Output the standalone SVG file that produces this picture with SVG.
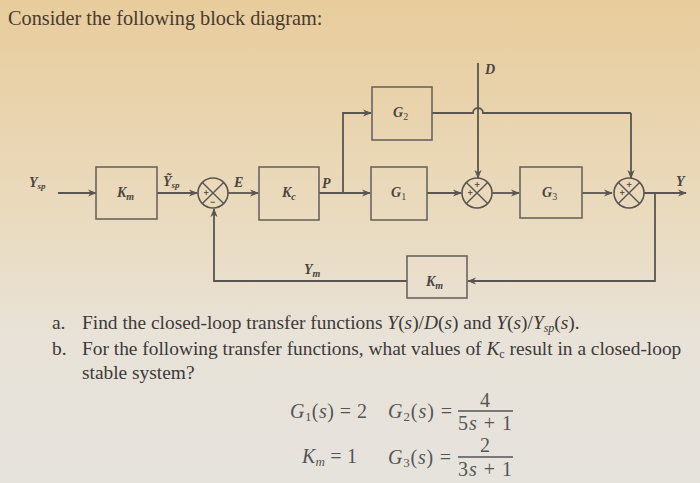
<svg xmlns="http://www.w3.org/2000/svg" width="700" height="483" viewBox="0 0 700 483">
<defs>
<linearGradient id="bg" x1="0" y1="0" x2="0" y2="1">
<stop offset="0" stop-color="#e8cc9c"/>
<stop offset="0.45" stop-color="#eadbbf"/>
<stop offset="0.7" stop-color="#e8e2d8"/>
<stop offset="1" stop-color="#e6e3dd"/>
</linearGradient>
<marker id="ah" viewBox="0 0 10 10" refX="9" refY="5" markerWidth="9" markerHeight="9" markerUnits="userSpaceOnUse" orient="auto">
<path d="M0,1 L10,5 L0,9 L3,5 Z" fill="#5a5550"/>
</marker>
</defs>
<style>
.box{fill:none;stroke:#6a6560;stroke-width:1.6}
.ln{fill:none;stroke:#5a5550;stroke-width:1.8}
.arr{marker-end:url(#ah)}
.lbl{font-family:"Liberation Serif",serif;font-style:italic;font-weight:bold;font-size:14px;fill:#4a4540}
.sg{font-family:"Liberation Sans",sans-serif;font-size:9px;fill:#5a5550;font-weight:bold}
.txt{font-family:"Liberation Serif",serif;font-size:19.4px;fill:#3c3a38}
.it{font-style:italic}
.eq{font-family:"Liberation Serif",serif;font-size:20px;fill:#555}
</style>
<rect width="700" height="483" fill="url(#bg)"/>
<text x="8" y="25" font-family="Liberation Serif,serif" font-size="20.3" fill="#4a3a30">Consider the following block diagram:</text>

<g id="connectors">
<path class="ln arr" d="M58,193 H96"/>
<path class="ln arr" d="M157,193 H197"/>
<path class="ln arr" d="M228,193 H258"/>
<path class="ln arr" d="M319,193 H370"/>
<path class="ln arr" d="M343,193 V113 H371"/>
<path class="ln arr" d="M427,193 H461"/>
<path class="ln" d="M432,113 H473 A5,5 0 0 1 483,113 H631"/>
<path class="ln arr" d="M631,113 V178"/>
<path class="ln arr" d="M478,63 V178"/>
<path class="ln arr" d="M492,193 H519"/>
<path class="ln arr" d="M582,193 H612"/>
<path class="ln arr" d="M644,193 H686"/>
<path class="ln arr" d="M655,193 V281 H468"/>
<path class="ln arr" d="M407,281 H214 V209"/>
</g>

<g id="sum1">
<circle cx="213" cy="193" r="15" fill="none" stroke="#5a5550" stroke-width="1.6"/>
<path d="M202.4,182.4 L223.6,203.6 M223.6,182.4 L202.4,203.6" stroke="#5a5550" stroke-width="1.4"/>
<text class="sg" x="203.5" y="196">+</text>
<text class="sg" x="210" y="205">−</text>
</g>
<g id="sum2">
<circle cx="477" cy="193" r="15" fill="none" stroke="#5a5550" stroke-width="1.6"/>
<path d="M466.4,182.4 L487.6,203.6 M487.6,182.4 L466.4,203.6" stroke="#5a5550" stroke-width="1.4"/>
<text class="sg" x="474.5" y="188">+</text>
<text class="sg" x="467.5" y="196">+</text>
</g>
<g id="sum3">
<circle cx="629" cy="193" r="15" fill="none" stroke="#5a5550" stroke-width="1.6"/>
<path d="M618.4,182.4 L639.6,203.6 M639.6,182.4 L618.4,203.6" stroke="#5a5550" stroke-width="1.4"/>
<text class="sg" x="626.5" y="188">+</text>
<text class="sg" x="619.5" y="196">+</text>
</g>

<g id="Km1"><rect class="box" x="96" y="167" width="61" height="52"/><text class="lbl" x="117" y="197">K<tspan font-size="10" dy="3">m</tspan></text></g>
<g id="Kc"><rect class="box" x="259" y="167" width="60" height="53"/><text class="lbl" x="282" y="197">K<tspan font-size="10" dy="3">c</tspan></text></g>
<g id="G1"><rect class="box" x="371" y="167" width="56" height="53"/><text class="lbl" x="391" y="197">G<tspan font-size="10" dy="3" font-style="normal" font-weight="normal">1</tspan></text></g>
<g id="G2"><rect class="box" x="372" y="87" width="60" height="53"/><text class="lbl" x="393" y="117">G<tspan font-size="10" dy="3" font-style="normal" font-weight="normal">2</tspan></text></g>
<g id="G3"><rect class="box" x="520" y="167" width="62" height="51"/><text class="lbl" x="542" y="197">G<tspan font-size="10" dy="3" font-style="normal" font-weight="normal">3</tspan></text></g>
<g id="Km2"><rect class="box" x="407" y="256" width="60" height="42"/><text class="lbl" x="426" y="286">K<tspan font-size="10" dy="3">m</tspan></text></g>

<g id="labels">
<text class="lbl" x="29" y="187">Y<tspan font-size="9" dy="2">sp</tspan></text>
<text class="lbl" x="163" y="186">Ỹ<tspan font-size="9" dy="2">sp</tspan></text>
<text class="lbl" x="234" y="187">E</text>
<text class="lbl" x="322" y="188">P</text>
<text class="lbl" x="485" y="74">D</text>
<text class="lbl" x="676" y="186">Y</text>
<text class="lbl" x="304" y="274">Y<tspan font-size="10" dy="3">m</tspan></text>
</g>

<text class="txt" x="52" y="329">a.</text>
<text class="txt" x="82" y="329">Find the closed-loop transfer functions <tspan class="it">Y</tspan>(<tspan class="it">s</tspan>)/<tspan class="it">D</tspan>(<tspan class="it">s</tspan>) and <tspan class="it">Y</tspan>(<tspan class="it">s</tspan>)/<tspan class="it">Y<tspan font-size="12" dy="3">sp</tspan></tspan><tspan dy="-3">(</tspan><tspan class="it">s</tspan>).</text>
<text class="txt" x="52" y="355">b.</text>
<text class="txt" x="82" y="355">For the following transfer functions, what values of <tspan class="it">K</tspan><tspan font-size="12" dy="3">c</tspan><tspan dy="-3"> result in a closed-loop</tspan></text>
<text class="txt" x="82" y="379">stable system?</text>

<g id="equations">
<text class="eq" x="290" y="418" textLength="77" lengthAdjust="spacing"><tspan class="it">G</tspan><tspan font-size="13" dy="3">1</tspan><tspan dy="-3">(</tspan><tspan class="it">s</tspan>) = 2</text>
<text class="eq" x="388" y="418" textLength="64" lengthAdjust="spacing"><tspan class="it">G</tspan><tspan font-size="13" dy="3">2</tspan><tspan dy="-3">(</tspan><tspan class="it">s</tspan>) =</text>
<text class="eq" x="480" y="407">4</text>
<line x1="458" y1="411" x2="513" y2="411" stroke="#555" stroke-width="1.3"/>
<text class="eq" x="458" y="430" textLength="54" lengthAdjust="spacing">5<tspan class="it">s</tspan> + 1</text>
<text class="eq" x="302" y="463" textLength="55" lengthAdjust="spacing"><tspan class="it">K</tspan><tspan font-size="13" dy="3" class="it">m</tspan><tspan dy="-3"> = 1</tspan></text>
<text class="eq" x="388" y="464" textLength="63" lengthAdjust="spacing"><tspan class="it">G</tspan><tspan font-size="13" dy="3">3</tspan><tspan dy="-3">(</tspan><tspan class="it">s</tspan>) =</text>
<text class="eq" x="480" y="452">2</text>
<line x1="458" y1="457" x2="513" y2="457" stroke="#555" stroke-width="1.3"/>
<text class="eq" x="458" y="476" textLength="54" lengthAdjust="spacing">3<tspan class="it">s</tspan> + 1</text>
</g>
</svg>
